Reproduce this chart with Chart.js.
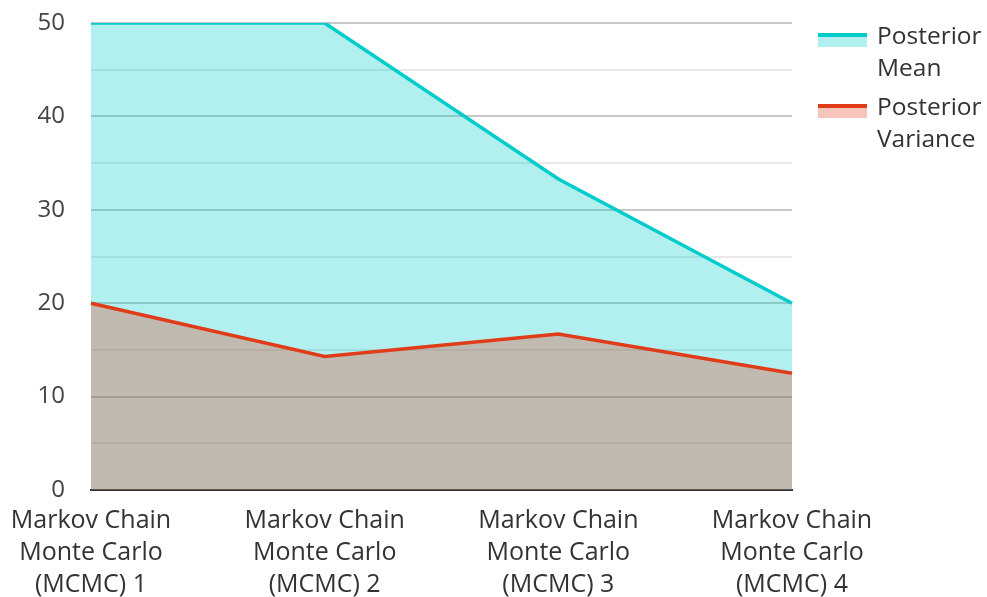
<!DOCTYPE HTML>
<html lang="en">
<head>
  <meta http-equiv="content-type" content="text/html; charset=UTF-8">
  <script src="https://cdn.jsdelivr.net/npm/chart.js@4"></script>
  <style>
    body { margin:0; background:#fff; font-family:"Open Sans", sans-serif; }
    #wrap { position:relative; width:987px; height:597px; }
    #legend { position:absolute; left:818px; top:19px; color:#333; font-size:24.5px; line-height:32px; }
    .item { display:flex; align-items:flex-start; margin-bottom:7px; }
    .swatch { width:49px; height:14px; margin-top:14px; margin-right:10px; box-sizing:border-box; }
  </style>
</head>
<body>
  <div id="wrap">
    <canvas id="chart" width="987" height="597"></canvas>
    <div id="legend"></div>
  </div>

  <script>
    // values
    const categories = [
        ['Markov Chain', 'Monte Carlo', '(MCMC) 1'],
        ['Markov Chain', 'Monte Carlo', '(MCMC) 2'],
        ['Markov Chain', 'Monte Carlo', '(MCMC) 3'],
        ['Markov Chain', 'Monte Carlo', '(MCMC) 4'],
    ];
    const posteriorMean = [50, 50, 33.3, 20];
    const posteriorVariance = [20, 14.3, 16.7, 12.5];

    const meanColor = '#00cccc';
    const varColor = '#e03c1a';

    // variance first so its fill is laid over the mean fill
    const datasets = [
        { label: 'Posterior Variance', data: posteriorVariance, borderColor: varColor,
          backgroundColor: 'rgba(224,60,26,0.3)', fill: 'origin' },
        { label: 'Posterior Mean', data: posteriorMean, borderColor: meanColor,
          backgroundColor: 'rgba(0,204,204,0.3)', fill: 'origin' },
    ];

    new Chart(document.getElementById('chart'), {
        type: 'line',
        data: { labels: categories, datasets: datasets },
        options: {
            responsive: false,
            animation: false,
            layout: { padding: { top: 0, right: 195, left: 0, bottom: 0 } },
            elements: {
                line: { borderWidth: 3.5, tension: 0 },
                point: { radius: 0 },
            },
            plugins: {
                legend: { display: false },
                tooltip: { enabled: false },
                filler: { drawTime: 'beforeDatasetsDraw' },
            },
            scales: {
                x: {
                    offset: false,
                    grid: { display: false, drawTicks: false },
                    border: { display: true, color: '#333', width: 2 },
                    ticks: {
                        maxRotation: 0, autoSkip: false, padding: 15,
                        color: '#333',
                        font: { family: 'Open Sans', size: 25, lineHeight: 1.28 },
                    },
                    afterFit: s => { s.height = 107; s.paddingLeft = 0; },
                },
                y: {
                    min: 0, max: 50,
                    grid: {
                        drawTicks: false,
                        color: ctx => ctx.tick && ctx.tick.value % 10 === 0 ? '#c8c8c8' : '#e8e8e8',
                        lineWidth: 2,
                    },
                    border: { display: false },
                    ticks: {
                        stepSize: 5, padding: 26, color: '#444',
                        font: { family: 'Open Sans', size: 24 },
                        callback: v => v % 10 === 0 ? v : '',
                    },
                    afterFit: s => { s.width = 91; s.paddingTop = 23; },
                },
            },
        },
    });

    // legend: line on top of a pale fill block
    const legendItems = [
        { text: ['Posterior', 'Mean'], line: meanColor, fill: 'rgba(0,204,204,0.3)' },
        { text: ['Posterior', 'Variance'], line: varColor, fill: 'rgba(224,60,26,0.3)' },
    ];
    const legend = document.getElementById('legend');
    legendItems.forEach(it => {
        const row = document.createElement('div');
        row.className = 'item';
        const sw = document.createElement('div');
        sw.className = 'swatch';
        sw.style.background = it.fill;
        sw.style.borderTop = '4px solid ' + it.line;
        const txt = document.createElement('div');
        txt.innerHTML = it.text.join('<br>');
        row.appendChild(sw);
        row.appendChild(txt);
        legend.appendChild(row);
    });
  </script>
</body>
</html>
